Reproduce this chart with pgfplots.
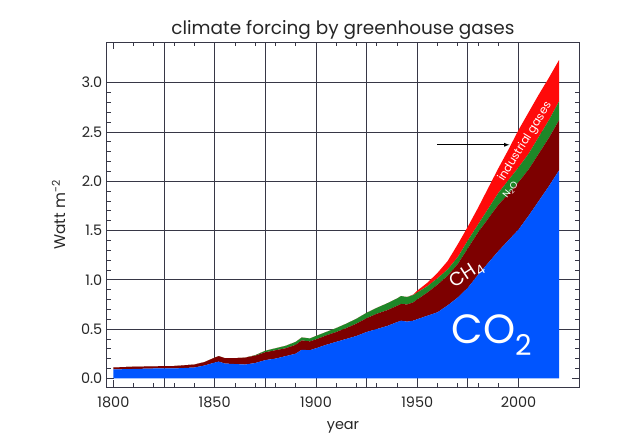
\documentclass[border=0pt]{standalone}
\usepackage{fontspec}
\setmainfont{Poppins}
\usepackage{pgfplots}
\usepackage{pgfplotstable}
\pgfplotsset{compat=1.18}
\definecolor{cblue}{RGB}{0,85,255}
\definecolor{cmaroon}{RGB}{125,0,0}
\definecolor{cgreen}{RGB}{30,135,40}
\definecolor{cred}{RGB}{255,10,10}
\definecolor{gridc}{RGB}{55,55,70}
\pgfplotstableread{
year co2 ch4 n2o ind
1800 0.090 0.020 0.000 0.000
1810 0.095 0.023 0.000 0.000
1820 0.100 0.022 0.000 0.000
1830 0.100 0.025 0.000 0.000
1840 0.110 0.030 0.000 0.000
1845 0.130 0.035 0.000 0.000
1850 0.160 0.050 0.000 0.000
1852 0.170 0.055 0.000 0.000
1855 0.150 0.055 0.000 0.000
1860 0.145 0.060 0.000 0.000
1865 0.140 0.070 0.000 0.000
1870 0.155 0.075 0.005 0.000
1875 0.185 0.080 0.015 0.000
1880 0.200 0.085 0.020 0.000
1885 0.225 0.080 0.025 0.000
1890 0.250 0.090 0.030 0.000
1893 0.290 0.095 0.030 0.000
1897 0.285 0.090 0.030 0.000
1900 0.305 0.090 0.035 0.000
1905 0.340 0.095 0.035 0.000
1910 0.370 0.100 0.040 0.000
1915 0.400 0.110 0.045 0.000
1920 0.430 0.125 0.050 0.000
1925 0.470 0.140 0.055 0.000
1930 0.500 0.155 0.060 0.000
1935 0.530 0.160 0.070 0.000
1940 0.570 0.165 0.075 0.000
1942 0.585 0.170 0.080 0.000
1945 0.575 0.175 0.075 0.000
1948 0.585 0.185 0.075 0.005
1950 0.600 0.200 0.070 0.020
1955 0.635 0.235 0.065 0.035
1960 0.670 0.280 0.065 0.055
1965 0.740 0.300 0.065 0.085
1970 0.820 0.340 0.070 0.130
1975 0.920 0.400 0.080 0.140
1980 1.050 0.430 0.080 0.170
1985 1.170 0.450 0.100 0.210
1990 1.290 0.470 0.120 0.250
1995 1.400 0.470 0.140 0.310
2000 1.510 0.480 0.150 0.380
2005 1.650 0.470 0.160 0.420
2010 1.800 0.480 0.170 0.430
2015 1.950 0.490 0.180 0.430
2020 2.110 0.510 0.190 0.420
}\forcing
\begin{document}
\begin{tikzpicture}
\useasboundingbox (-106.7bp,-49.7bp) rectangle (533.3bp,387.3bp);
\begin{axis}[
  at={(0,0)}, anchor=south west,
  width=472.6bp, height=345bp, scale only axis,
  xmin=1796.7, xmax=2030, ymin=-0.091, ymax=3.41,
  stack plots=y,
  xtick={1800,1850,1900,1950,2000},
  minor x tick num=4,
  ytick={0,0.5,1,1.5,2,2.5,3},
  minor y tick num=4,
  /pgf/number format/1000 sep={},
  yticklabel style={/pgf/number format/fixed, /pgf/number format/fixed zerofill, /pgf/number format/precision=1, xshift=-1bp},
  /pgf/number format/assume math mode=true,
  tick label style={font=\fontsize{14.5}{16}\selectfont, text=black!85},
  xticklabel style={yshift=-6bp},
  major tick length=7bp, minor tick length=4bp,
  tick style={color=gridc, line width=0.8bp},
  axis line style={color=gridc, line width=0.9bp},
  extra x ticks={1825,1850,1875,1900,1925,1950,1975,2000},
  extra x tick labels={},
  extra x tick style={grid=major, major tick length=0pt},
  extra y ticks={0.5,1,1.5,2,2.5,3},
  extra y tick labels={},
  extra y tick style={grid=major, major tick length=0pt},
  major grid style={color=gridc, line width=0.8bp},
  title={climate forcing by greenhouse gases},
  title style={font=\fontsize{18.5}{21}\selectfont, text=black!85, at={(0.5,1)}, anchor=base, yshift=2bp},
  xlabel={year},
  xlabel style={font=\fontsize{14.5}{16}\selectfont, text=black!85, yshift=-7bp},
  ylabel={Watt m\textsuperscript{-2}},
  ylabel style={font=\fontsize{15.5}{17}\selectfont, text=black!85, yshift=9bp},
]
\addplot[fill=cblue, draw=none] table[x=year, y=co2] {\forcing} \closedcycle;
\addplot[fill=cmaroon, draw=none] table[x=year, y=ch4] {\forcing} \closedcycle;
\addplot[fill=cgreen, draw=none] table[x=year, y=n2o] {\forcing} \closedcycle;
\addplot[fill=cred, draw=none] table[x=year, y=ind] {\forcing} \closedcycle;
\coordinate (lco) at (axis cs:1986.8,0.44);
\coordinate (lch) at (axis cs:1974.5,1.05);
\coordinate (lno) at (axis cs:1996.2,1.91);
\coordinate (lind) at (axis cs:2003.3,2.40);
\coordinate (ara) at (axis cs:1959.8,2.37);
\coordinate (arb) at (axis cs:1995.5,2.37);
\end{axis}
\node[white, font=\fontsize{41}{44}\selectfont] at (lco) {CO\textsubscript{2}};
\node[white, rotate=33, font=\fontsize{19}{21}\selectfont] at (lch) {CH\textsubscript{4}};
\node[white, rotate=52, font=\fontsize{9.5}{11}\selectfont] at (lno) {N\textsubscript{2}O};
\node[white, rotate=58, font=\fontsize{11.5}{13}\selectfont] at (lind) {industrial gases};
\draw[-latex, black, line width=0.8bp] (ara) -- (arb);
\end{tikzpicture}
\end{document}
